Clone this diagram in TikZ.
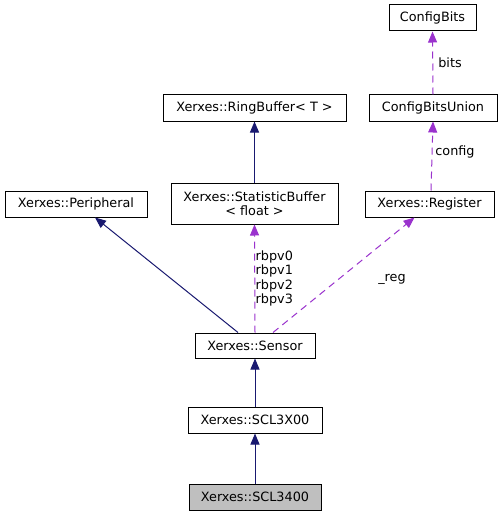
\documentclass[tikz,border=0pt]{standalone}
\usepackage{fontspec}
\setmainfont{DejaVu Sans}
\usetikzlibrary{arrows.meta}
\definecolor{navyedge}{HTML}{191970}
\definecolor{purpleedge}{HTML}{9A32CD}
\definecolor{grayfill}{HTML}{BFBFBF}
\begin{document}
\begin{tikzpicture}[x=1pt,y=-1pt,
  cls/.style={draw=black,line width=1pt,fill=white,inner sep=0pt,font=\fontsize{12.8}{14.5}\selectfont,align=center},
  inh/.style={draw=navyedge,line width=1pt,-{Triangle[length=11pt,width=9pt]}},
  use/.style={draw=purpleedge,line width=1pt,dash pattern=on 7pt off 5pt,-{Triangle[length=11pt,width=9pt]}},
  lbl/.style={font=\fontsize{12.8}{14.5}\selectfont,inner sep=0pt,align=left}]
\useasboundingbox (0,0) rectangle (502,516);
\fill[white] (0,0) rectangle (502,516);
\node[cls,minimum width=87pt,minimum height=26pt] (cb) at (432.5,18) {ConfigBits};
\node[cls,minimum width=128pt,minimum height=26pt] (cbu) at (433,108) {ConfigBitsUnion};
\node[cls,minimum width=129pt,minimum height=26pt] (reg) at (429.5,204) {Xerxes::Register};
\node[cls,minimum width=183pt,minimum height=26pt] (ring) at (254.5,108) {Xerxes::RingBuffer< T >};
\node[cls,minimum width=167pt,minimum height=41pt] (stat) at (254.5,203.5) {Xerxes::StatisticBuffer\\< float >};
\node[cls,minimum width=142pt,minimum height=26pt] (per) at (76,204) {Xerxes::Peripheral};
\node[cls,minimum width=120pt,minimum height=25pt] (sen) at (255,345.5) {Xerxes::Sensor};
\node[cls,minimum width=134pt,minimum height=26pt] (s3x) at (255,420) {Xerxes::SCL3X00};
\node[cls,fill=grayfill,minimum width=132pt,minimum height=26pt] (s34) at (255,497) {Xerxes::SCL3400};
% edges
\draw[inh] (s34.north) -- (s3x.south);
\draw[inh] (s3x.north) -- (sen.south);
\draw[inh] ([xshift=-17pt]sen.north) -- ([xshift=19pt]per.south);
\draw[inh] (stat.north) -- (ring.south);
\draw[use] (sen.north) -- (stat.south);
\draw[use] ([xshift=18pt]sen.north) -- ([xshift=-15pt]reg.south);
\draw[use] ([xshift=1.5pt]reg.north) -- (cbu.south);
\draw[use] (cbu.north) -- (cb.south);
% labels
\node[lbl,anchor=north west] (lrb) at (255.5,250.5) {rbpv0\\rbpv1\\rbpv2\\rbpv3};
\node[lbl] (lreg) at (392,279) {\_reg};
\node[lbl] (lcfg) at (455,152) {config};
\node[lbl] (lbits) at (450,63) {bits};
\end{tikzpicture}
\end{document}
